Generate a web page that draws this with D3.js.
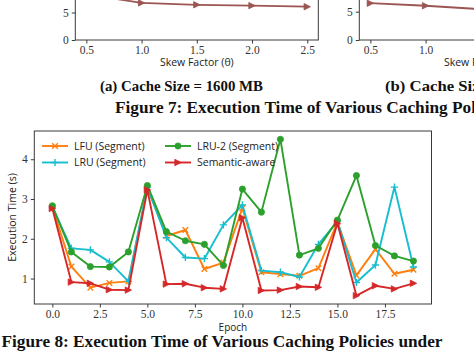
<!DOCTYPE html>
<html>
<head>
<meta charset="utf-8">
<script src="https://cdn.jsdelivr.net/npm/d3@7"></script>
<style>
  html, body { margin: 0; padding: 0; background: #fff; overflow: hidden; }
</style>
</head>
<body>
<div id="chart"></div>
<script>
// Figure 7 (top, partly cut off)
const skewFactors = [0.5, 1.0, 1.5, 2.0, 2.5];
const time1600 = [8.3, 6.75, 6.4, 6.25, 6.05];
const timeB = [6.5, 6.05, 5.45, 5.2, 5.0];
const skewTicks = [0.5, 1.0, 1.5, 2.0, 2.5];

// Figure 8
const epochs = d3.range(20);
const lfu = [2.80, 1.30, 0.77, 0.89, 0.93, 3.28, 2.07, 2.22, 1.24, 1.40,
             2.77, 1.16, 1.11, 1.07, 1.26, 2.42, 1.08, 1.74, 1.12, 1.22];
const lru = [2.80, 1.76, 1.72, 1.42, 0.93, 3.30, 2.03, 1.53, 1.50, 2.35,
             2.85, 1.20, 1.16, 1.04, 1.86, 2.44, 0.90, 1.34, 3.30, 1.29];
const lru2 = [2.83, 1.67, 1.30, 1.29, 1.67, 3.34, 2.18, 1.95, 1.86, 1.33,
              3.25, 2.67, 4.50, 1.59, 1.76, 2.47, 3.59, 1.83, 1.57, 1.44];
const semantic = [2.76, 0.91, 0.88, 0.72, 0.71, 3.23, 0.86, 0.87, 0.77, 0.74,
                  2.53, 0.70, 0.71, 0.80, 0.78, 2.39, 0.57, 0.82, 0.74, 0.88];
const epochTicks = [0, 2.5, 5, 7.5, 10, 12.5, 15, 17.5];
const timeTicks = [1, 2, 3, 4];

const series = [
  { name: 'LFU (Segment)', values: lfu, color: '#ff7f0e', marker: 'x' },
  { name: 'LRU (Segment)', values: lru, color: '#17becf', marker: '+' },
  { name: 'LRU-2 (Segment)', values: lru2, color: '#2ca02c', marker: 'o' },
  { name: 'Semantic-aware', values: semantic, color: '#d62728', marker: '>' }
];

const W = 474, H = 351;
const serif = '"Liberation Serif", "DejaVu Serif", serif';
const sans = '"Open Sans", "DejaVu Sans", sans-serif';
const frameColor = '#3a3a3a';

const svg = d3.select('#chart').append('svg')
  .attr('width', W).attr('height', H)
  .style('display', 'block');

function drawMarker(g, type, cx, cy, color) {
  if (type === 'o') {
    g.append('circle').attr('cx', cx).attr('cy', cy).attr('r', 3.1)
      .attr('fill', color).attr('stroke', color).attr('stroke-width', 0.8);
  } else if (type === 'x') {
    const s = 2.8;
    g.append('path').attr('d', `M${cx - s},${cy - s}L${cx + s},${cy + s}M${cx - s},${cy + s}L${cx + s},${cy - s}`)
      .attr('stroke', color).attr('stroke-width', 1.4);
  } else if (type === '+') {
    const s = 3.6;
    g.append('path').attr('d', `M${cx - s},${cy}L${cx + s},${cy}M${cx},${cy - s}L${cx},${cy + s}`)
      .attr('stroke', color).attr('stroke-width', 1.4);
  } else if (type === '>') {
    const s = 3.2;
    g.append('path').attr('d', `M${cx + s},${cy}L${cx - s},${cy - s}L${cx - s},${cy + s}Z`)
      .attr('fill', color).attr('stroke', color).attr('stroke-width', 0.8);
  }
}

// ---------- top: Figure 7 subplots (clipped at the top edge) ----------
function skewPanel(px, yZero, yFive, values, color) {
  const x = d3.scaleLinear().domain([0.4, 2.6]).range([px, px + 243]);
  const y = d3.scaleLinear().domain([0, 5]).range([yZero, yFive]);
  const g = svg.append('g');

  const line = d3.line().x((d, i) => x(skewFactors[i])).y(d => y(d));
  g.append('path').datum(values).attr('d', line)
    .attr('fill', 'none').attr('stroke', color).attr('stroke-width', 1.8);
  values.forEach((v, i) => drawMarker(g, '>', x(skewFactors[i]), y(v), color));

  g.append('rect').attr('x', px).attr('y', -60).attr('width', 243).attr('height', yZero + 60)
    .attr('fill', 'none').attr('stroke', frameColor).attr('stroke-width', 1);

  // only ticks that fall inside the page
  const visibleTicks = skewTicks.filter(t => x(t) < W - 6);
  const xAxis = g.append('g').attr('transform', `translate(0,${yZero})`)
    .call(d3.axisBottom(x).tickValues(visibleTicks).tickFormat(d3.format('.1f')).tickSize(3.5).tickPadding(2));
  const yAxis = g.append('g').attr('transform', `translate(${px},0)`)
    .call(d3.axisLeft(y).tickValues([0, 5]).tickFormat(d3.format('d')).tickSize(3.5).tickPadding(3));
  [xAxis, yAxis].forEach(a => {
    a.select('.domain').remove();
    a.selectAll('line').attr('stroke', frameColor);
    a.selectAll('text').attr('font-family', serif).attr('font-size', 11.5).attr('fill', '#333');
  });

  g.append('text').attr('x', px + 121.5).attr('y', 66)
    .attr('text-anchor', 'middle').attr('font-family', sans).attr('font-size', 10.5).attr('fill', '#222')
    .text('Skew Factor (θ)');
}
skewPanel(75.3, 40, 12.5, time1600, '#9b5552');
skewPanel(359.3, 40, 11.7, timeB, '#9b5552');

svg.append('text').attr('x', 100).attr('y', 91)
  .attr('font-family', serif).attr('font-weight', 'bold').attr('font-size', 14.5).attr('fill', '#111')
  .attr('textLength', 163).attr('lengthAdjust', 'spacingAndGlyphs')
  .text('(a) Cache Size = 1600 MB');
svg.append('text').attr('x', 385).attr('y', 91)
  .attr('font-family', serif).attr('font-weight', 'bold').attr('font-size', 14.5).attr('fill', '#111')
  .attr('textLength', 102).attr('lengthAdjust', 'spacingAndGlyphs')
  .text('(b) Cache Size');
svg.append('text').attr('x', 115).attr('y', 112.5)
  .attr('font-family', serif).attr('font-weight', 'bold').attr('font-size', 16).attr('fill', '#111')
  .attr('textLength', 441).attr('lengthAdjust', 'spacingAndGlyphs')
  .text('Figure 7: Execution Time of Various Caching Policies under');

// ---------- main: Figure 8 ----------
const plotL = 34.3, plotR = 431.5, plotT = 131, plotB = 304;
const x = d3.scaleLinear().domain([-0.95, 19.95]).range([plotL, plotR]);
const y = d3.scaleLinear().domain([0.36, 4.71]).range([plotB, plotT]);

const main = svg.append('g');
const line = d3.line().x((d, i) => x(epochs[i])).y(d => y(d));
series.forEach(s => {
  const g = main.append('g');
  g.append('path').datum(s.values).attr('d', line)
    .attr('fill', 'none').attr('stroke', s.color).attr('stroke-width', 1.9)
    .attr('stroke-linejoin', 'round');
  s.values.forEach((v, i) => drawMarker(g, s.marker, x(epochs[i]), y(v), s.color));
});

main.append('rect').attr('x', plotL).attr('y', plotT).attr('width', plotR - plotL).attr('height', plotB - plotT)
  .attr('fill', 'none').attr('stroke', frameColor).attr('stroke-width', 1);

const xAxis = main.append('g').attr('transform', `translate(0,${plotB})`)
  .call(d3.axisBottom(x).tickValues(epochTicks).tickFormat(d3.format('.1f')).tickSize(3.5).tickPadding(2.5));
const yAxis = main.append('g').attr('transform', `translate(${plotL},0)`)
  .call(d3.axisLeft(y).tickValues(timeTicks).tickFormat(d3.format('d')).tickSize(3.5).tickPadding(3));
[xAxis, yAxis].forEach(a => {
  a.select('.domain').remove();
  a.selectAll('line').attr('stroke', frameColor);
  a.selectAll('text').attr('font-family', serif).attr('font-size', 11.5).attr('fill', '#333');
});

main.append('text').attr('x', (plotL + plotR) / 2).attr('y', 330.5)
  .attr('text-anchor', 'middle').attr('font-family', sans).attr('font-size', 10).attr('fill', '#222')
  .text('Epoch');
main.append('text')
  .attr('transform', `translate(16,${(plotT + plotB) / 2}) rotate(-90)`)
  .attr('text-anchor', 'middle').attr('font-family', sans).attr('font-size', 10.5).attr('fill', '#222')
  .text('Execution Time (s)');

// legend, two columns
const legendPos = [
  { lx: 42, ly: 146 }, { lx: 42, ly: 162.5 },
  { lx: 165, ly: 146 }, { lx: 165, ly: 162.5 }
];
series.forEach((s, i) => {
  const p = legendPos[i];
  const g = main.append('g');
  g.append('line').attr('x1', p.lx).attr('x2', p.lx + 26).attr('y1', p.ly).attr('y2', p.ly)
    .attr('stroke', s.color).attr('stroke-width', 1.9);
  drawMarker(g, s.marker, p.lx + 13, p.ly, s.color);
  g.append('text').attr('x', p.lx + 32).attr('y', p.ly + 3.8)
    .attr('font-family', sans).attr('font-size', 10.5).attr('fill', '#222')
    .text(s.name);
});

svg.append('text').attr('x', 1.5).attr('y', 347)
  .attr('font-family', serif).attr('font-weight', 'bold').attr('font-size', 16).attr('fill', '#111')
  .attr('textLength', 441).attr('lengthAdjust', 'spacingAndGlyphs')
  .text('Figure 8: Execution Time of Various Caching Policies under');
</script>
</body>
</html>
